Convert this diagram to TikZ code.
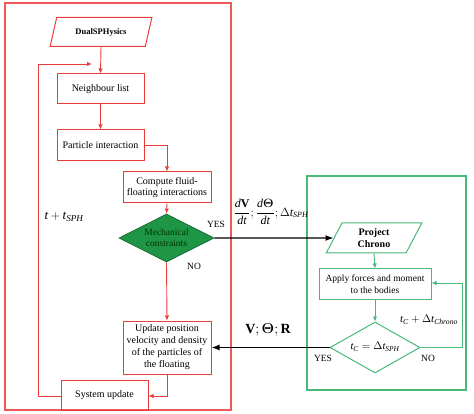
\documentclass[tikz,border=0pt]{standalone}
\usepackage{amsmath,amssymb,bm}
\usepackage{fontspec}
\setmainfont{Liberation Serif}
\usetikzlibrary{shapes.geometric,arrows.meta,calc}
\definecolor{rd}{RGB}{235,60,60}
\definecolor{gl}{RGB}{70,185,120}
\definecolor{gf}{RGB}{30,150,70}
\definecolor{gd}{RGB}{20,110,50}
\newcommand{\ti}[1]{\textit{#1}}
\begin{document}
\begin{tikzpicture}[x=1pt,y=-1pt,
  rbox/.style={draw=rd,line width=1pt,rectangle,align=center,font=\fontsize{10}{11.5}\selectfont,inner sep=1pt},
  gbox/.style={draw=gl,line width=1pt,rectangle,align=center,font=\fontsize{10}{11.5}\selectfont,inner sep=1pt},
  para/.style={trapezium,trapezium left angle=68,trapezium right angle=112,trapezium stretches=true,line width=1pt,align=center,inner sep=1pt},
  rarr/.style={draw=rd,line width=0.9pt,-{Latex[length=5pt,width=4.5pt]}},
  garr/.style={draw=gl,line width=0.9pt,-{Latex[length=5pt,width=4.5pt]}},
  karr/.style={draw=black,line width=1.2pt,-{Latex[length=8pt,width=6pt]}},
  lab/.style={font=\fontsize{9.5}{10}\selectfont,inner sep=0pt}
]
\useasboundingbox (0,0) rectangle (474,414);
% frames
\draw[rd!85,line width=1.1pt] (5,3) rectangle (231,410);
\draw[gl,line width=1.1pt] (307,176) rectangle (466,390);

% left nodes
\node[para,draw=rd,minimum width=102pt,minimum height=29pt,font=\bfseries\fontsize{8.5}{10}\selectfont] (dual) at (101,32) {DualSPHysics};
\node[rbox,minimum width=87pt,minimum height=30pt] (nb) at (100.5,89) {Neighbour list};
\node[rbox,minimum width=87pt,minimum height=31pt] (pi) at (100.5,145.5) {Particle interaction};
\node[rbox,minimum width=88pt,minimum height=31pt] (cf) at (167,187.5) {Compute fluid-\\floating interactions};
\node[diamond,draw=gd,fill=gf,line width=0.8pt,minimum width=95pt,minimum height=48pt,inner sep=0pt,aspect=2] (mc) at (166.5,238) {};
\node[align=center,font=\fontsize{9.5}{11}\selectfont,text=black!80!green] at (166.5,238) {Mechanical\\constraints};
\node[rbox,minimum width=88pt,minimum height=53pt,font=\fontsize{10}{12}\selectfont] (up) at (167,347.5) {Update position\\velocity and density\\of the particles of\\the floating};
\node[rbox,minimum width=87pt,minimum height=30pt] (su) at (104.5,395) {System update};

% right nodes
\node[para,draw=gl,minimum width=96pt,minimum height=30pt,font=\bfseries\fontsize{10}{12}\selectfont] (pc) at (374,238) {Project\\Chrono};
\node[gbox,minimum width=112pt,minimum height=30pt,font=\fontsize{9.5}{11.5}\selectfont] (ap) at (375,284) {Apply forces and moment\\to the bodies};
\node[diamond,draw=gl,line width=1pt,minimum width=90pt,minimum height=51pt,inner sep=0pt,aspect=1.8] (tc) at (375,347.5) {};
\node[font=\fontsize{10.5}{12}\selectfont] at (375,347) {$\ti{t}_{\ti{C}}=\Delta \ti{t}_{\ti{SPH}}$};

% red connectors
\draw[rarr] (dual.south) -- (nb.north);
\draw[rarr] (nb.south) -- (pi.north);
\draw[rarr] (pi.east) -| (cf.north);
\draw[rarr] (cf.south) -- (mc.north);
\draw[rarr] (mc.south) -- (up.north);
\coordinate (sx) at (167,396);
\draw[rarr] (up.south) -- (sx) -- (su.east |- sx);
\coordinate (lp) at (92,64);
\draw[rarr] (su.west |- sx) -- (38,396) -- (38,64) -- (lp);

% green connectors
\draw[garr] (pc.south) -- (ap.north);
\draw[garr] (ap.south) -- (tc.north);
\coordinate (rr) at (462,347.5);
\draw[garr] (tc.east) -- (rr) -- (462,283) -- (ap.east |- 0,283);

% black connectors
\draw[karr] (mc.east) -- (pc.west);
\draw[karr] (tc.west) -- (up.east);

% labels
\node[font=\fontsize{13}{14}\selectfont] at (64,217) {$\ti{t}+\ti{t}_{\ti{SPH}}$};
\node[lab] at (216,224) {YES};
\node[lab] at (194,266) {NO};
\node[font=\fontsize{12}{14}\selectfont] at (271,212) {$\dfrac{\ti{d}\mathbf{V}}{\ti{dt}};\dfrac{\ti{d}\bm{\Theta}}{\ti{dt}};\Delta \ti{t}_{\ti{SPH}}$};
\node[font=\fontsize{14}{15}\selectfont] at (268,330) {$\mathbf{V};\bm{\Theta};\mathbf{R}$};
\node[font=\fontsize{11}{12}\selectfont] at (429,320) {$\ti{t}_{\ti{C}}+\Delta \ti{t}_{\ti{Chrono}}$};
\node[lab] at (323,358) {YES};
\node[lab] at (428,358) {NO};
\end{tikzpicture}
\end{document}
